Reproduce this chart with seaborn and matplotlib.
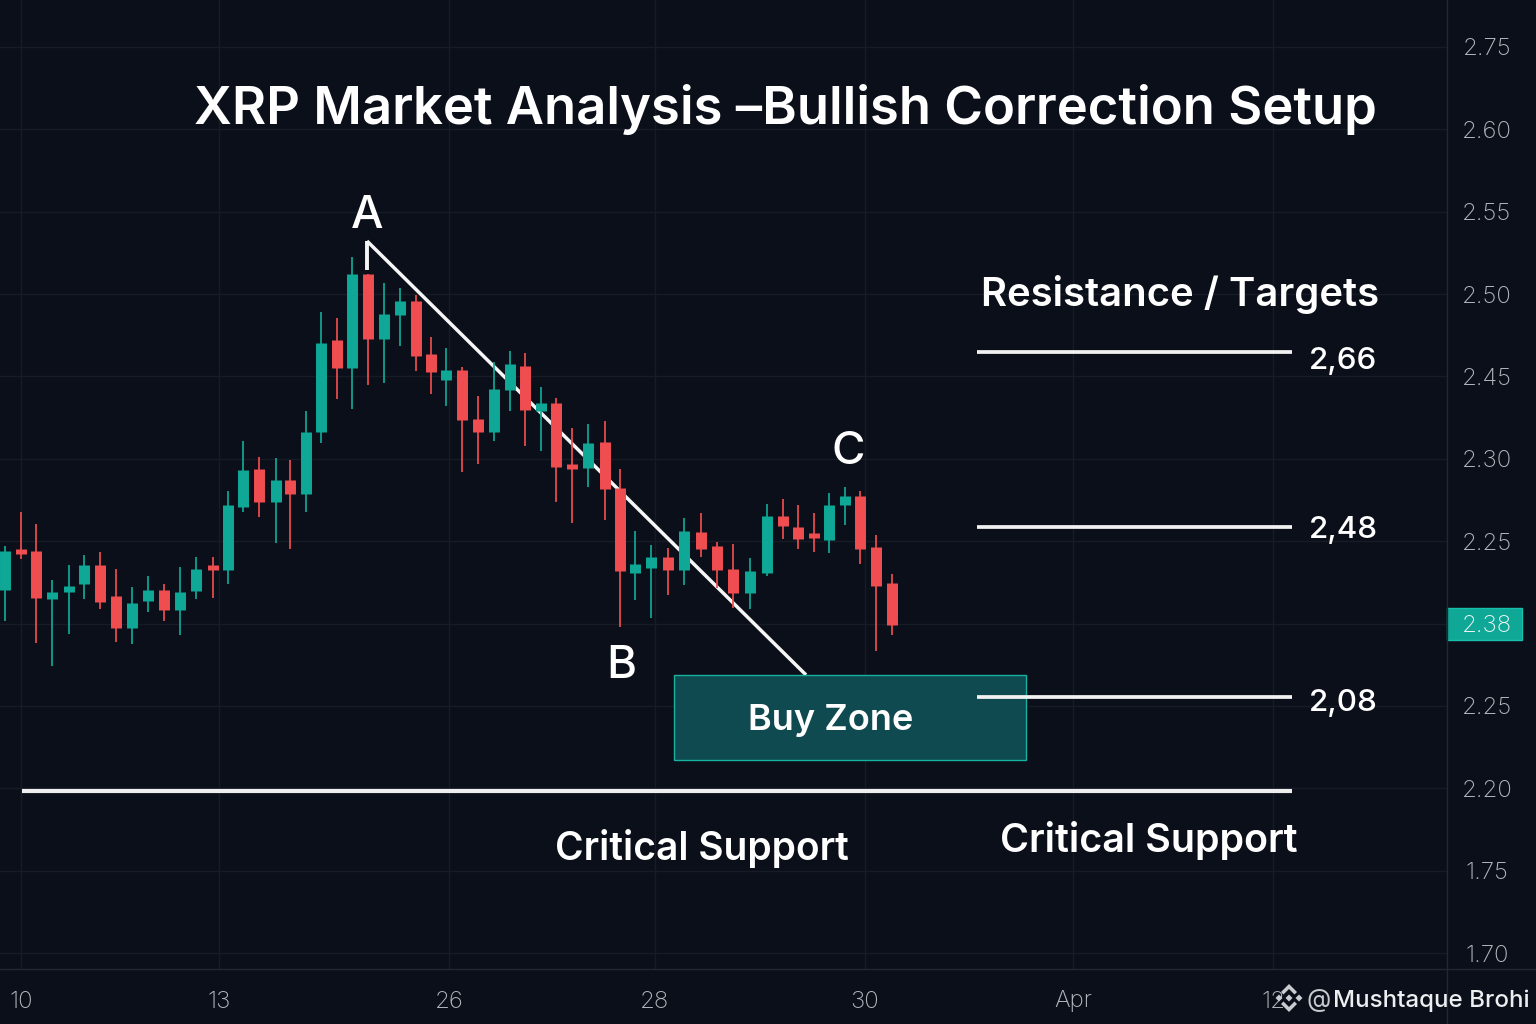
import matplotlib
matplotlib.use("Agg")
import matplotlib.pyplot as plt
from matplotlib.lines import Line2D
from matplotlib.patches import Rectangle, Polygon
import numpy as np
import pandas as pd
import seaborn as sns

# Candle series on the chart's time and price axes
bar_times = [0,1.04,1.99,3.00,4.04,5.02,6.03,7.03,8.04,9.05,10.06,11.07,12.08,13.15,14.10,15.05,16.06,17.13,18.01,19.02,19.97,20.98,21.92,22.93,23.94,24.95,25.96,26.91,27.85,28.86,29.87,30.88,31.89,32.84,33.85,34.79,35.80,36.81,37.88,38.83,39.78,40.79,41.86,42.87,43.94,44.95,45.96,47.03,48.11,49.12,50.06,51.07,52.02,53.03,53.97,54.98,55.99]
opens = [2.4204,2.4451,2.4443,2.4150,2.4190,2.4243,2.4356,2.4166,2.3972,2.4139,2.4204,2.4083,2.4200,2.4356,2.4326,2.4710,2.4936,2.4740,2.4872,2.4789,2.5165,2.5719,2.5554,2.6124,2.5727,2.5875,2.5960,2.5638,2.5477,2.5539,2.5242,2.5165,2.5418,2.5564,2.5288,2.5339,2.4969,2.4947,2.5100,2.4823,2.4309,2.4338,2.4402,2.4328,2.4558,2.4471,2.4332,2.4188,2.4305,2.4653,2.4587,2.4550,2.4510,2.4720,2.4777,2.4463,2.4245]
closes = [2.4443,2.4423,2.4154,2.4190,2.4226,2.4356,2.4133,2.3972,2.4123,2.4204,2.4083,2.4194,2.4330,2.4326,2.4722,2.4932,2.4740,2.4872,2.4789,2.5161,2.5705,2.5554,2.6124,2.5727,2.5879,2.5960,2.5622,2.5529,2.5539,2.5236,2.5161,2.5426,2.5578,2.5295,2.5339,2.4953,2.4936,2.5098,2.4819,2.4319,2.4360,2.4402,2.4328,2.4560,2.4451,2.4324,2.4188,2.4319,2.4653,2.4591,2.4516,2.4520,2.4722,2.4777,2.4453,2.4230,2.3994]
highs = [2.4471,2.4678,2.4605,2.4265,2.4358,2.4419,2.4437,2.4334,2.4224,2.4289,2.4241,2.4342,2.4406,2.4406,2.4803,2.5106,2.5013,2.5003,2.4993,2.5293,2.5891,2.5853,2.6227,2.6124,2.6065,2.6039,2.5995,2.5740,2.5671,2.5556,2.5382,2.5586,2.5655,2.5640,2.5436,2.5367,2.5185,2.5214,2.5230,2.4936,2.4562,2.4475,2.4457,2.4641,2.4669,2.4495,2.4483,2.4398,2.4726,2.4756,2.4720,2.4669,2.4791,2.4831,2.4807,2.4538,2.4299]
lows = [2.4018,2.4394,2.3880,2.3745,2.3937,2.4152,2.4091,2.3885,2.3876,2.4073,2.4018,2.3929,2.4148,2.4154,2.4237,2.4678,2.4649,2.4491,2.4455,2.4678,2.5098,2.5363,2.5303,2.5448,2.5462,2.5687,2.5533,2.5394,2.5323,2.4918,2.4967,2.5106,2.5291,2.5080,2.5046,2.4740,2.4613,2.4827,2.4631,2.3982,2.4143,2.4036,2.4174,2.4232,2.4404,2.4214,2.4093,2.4087,2.4289,2.4516,2.4453,2.4435,2.4429,2.4597,2.4360,2.3836,2.3933]

y_ticks = [2.75, 2.70, 2.65, 2.60, 2.55, 2.50, 2.45, 2.40, 2.35, 2.30, 2.25, 2.20]
y_labels = ["2.75", "2.60", "2.55", "2.50", "2.45", "2.30", "2.25", "", "2.25", "2.20", "1.75", "1.70"]
last_price_label = "2.38"
last_price_level = 2.40

x_ticks = [1.06, 13.53, 28.04, 41.04, 54.29, 67.41, 80.03]
x_labels = ["10", "13", "26", "28", "30", "Apr", "12"]

target_labels = ["2,66", "2,48", "2,08"]
target_levels = [2.5648, 2.4586, 2.3554]
support_level = 2.2984
buy_zone_prices = (2.3172, 2.3688)
buy_zone_span = (42.24, 64.45)
target_span = (61.36, 81.23)
support_span = (1.10, 81.23)
swing_start = (22.87, 2.6322)
swing_end = (50.57, 2.3688)
swing_stem_end = 2.6146

BG = "#0b0f19"
GRID = "#161b25"
FRAME = "#232831"
TEAL = "#0fa896"
RED = "#ef4d50"
TICK = "#b4b8be"
WHITE = "#ffffff"
W, H = 1536, 1024

sns.set_theme(style="dark", rc={"figure.facecolor": BG, "axes.facecolor": BG})
plt.rcParams["font.family"] = ["Inter", "DejaVu Sans"]

fig = plt.figure(figsize=(W / 100, H / 100), dpi=100, facecolor=BG)
ax = fig.add_axes([0, 1 - 969 / H, 1447 / W, 969 / H])
ax.set_facecolor(BG)

times = np.array(bar_times)
direction = np.where(np.array(closes) >= np.array(opens), "up", "down")
index = np.arange(len(opens))
wicks = pd.DataFrame({"candle": np.r_[index, index], "time": np.r_[times, times],
                      "price": highs + lows, "direction": np.r_[direction, direction]})
bodies = pd.DataFrame({"candle": np.r_[index, index], "time": np.r_[times, times],
                       "price": opens + closes, "direction": np.r_[direction, direction]})
palette = {"up": TEAL, "down": RED}

# The swing line runs beneath the candles
ax.plot([swing_start[0], swing_end[0]], [swing_start[1], swing_end[1]],
        color="#f6f6f6", lw=2.5, zorder=2, solid_capstyle="butt")
ax.plot([swing_start[0], swing_start[0]], [swing_start[1], swing_stem_end],
        color="#f6f6f6", lw=2.8, zorder=2, solid_capstyle="butt")

sns.lineplot(data=wicks, x="time", y="price", hue="direction", units="candle",
             estimator=None, palette=palette, legend=False, lw=1.25,
             solid_capstyle="butt", zorder=3, ax=ax)
sns.lineplot(data=bodies, x="time", y="price", hue="direction", units="candle",
             estimator=None, palette=palette, legend=False, lw=7.9,
             solid_capstyle="butt", zorder=4, ax=ax)

ax.set_xlim(-0.284, 91.01)
ax.set_ylim(2.1903, 2.7785)
ax.set_xlabel("")
ax.set_ylabel("")
ax.set_xticks(x_ticks)
ax.set_xticklabels([])
ax.set_yticks(y_ticks)
ax.set_yticklabels([])
ax.tick_params(length=0)
ax.grid(True, color=GRID, lw=1.0, zorder=1)
ax.set_axisbelow(True)
for spine in ax.spines.values():
    spine.set_visible(False)

# Buy zone and level lines
ax.add_patch(Rectangle((buy_zone_span[0], buy_zone_prices[0]),
                       buy_zone_span[1] - buy_zone_span[0],
                       buy_zone_prices[1] - buy_zone_prices[0],
                       facecolor="#0e4a4f", edgecolor="#17b3a0", lw=1.0, zorder=5))
ax.hlines(target_levels, *target_span, color="#f2f2f2", lw=2.7, zorder=6)
ax.hlines(support_level, *support_span, color="#eeeeee", lw=3.0, zorder=6)


def put(x, y, text, size, color=WHITE, weight="semibold", z=10):
    fig.text(x / W, 1 - y / H, text, fontsize=size, ha="center", va="center_baseline",
             color=color, fontweight=weight, zorder=z)


# Frame of the price and time scales
fig.add_artist(Line2D([1447 / W, 1447 / W], [0, 1], color=FRAME, lw=1.0))
fig.add_artist(Line2D([0, 1], [1 - 969 / H, 1 - 969 / H], color=FRAME, lw=1.0))

# Price scale labels
for value, label in zip(y_ticks, y_labels):
    if label:
        fig.text(1487 / W, ax.get_yaxis_transform().transform((0, value))[1] / fig.bbox.height,
                 label, fontsize=17.2, ha="center", va="center_baseline", color=TICK,
                 fontweight="light")

# Last price tag
tag_y = ax.get_yaxis_transform().transform((0, last_price_level))[1] / fig.bbox.height
fig.add_artist(Rectangle((1447 / W, tag_y - 16 / H), 75 / W, 32 / H, transform=fig.transFigure,
                         facecolor=TEAL, edgecolor="#17c0ac", lw=1.0))
fig.text(1487 / W, tag_y, last_price_label, fontsize=17.2, ha="center",
         va="center_baseline", color="#eef6f5", fontweight="light", zorder=10)

# Time scale labels
for value, label in zip(x_ticks, x_labels):
    fig.text(ax.get_xaxis_transform().transform((value, 0))[0] / fig.bbox.width, 1 - 999 / H,
             label, fontsize=17.2, ha="center", va="center_baseline", color=TICK,
             fontweight="light")

# Headline and annotations
put(785, 104, "XRP Market Analysis \u2013Bullish Correction Setup", 37.9)
put(367, 212, "A", 33, weight="medium")
put(621, 661, "B", 33, weight="medium")
put(848, 448, "C", 33, weight="medium")
put(1180, 291, "Resistance / Targets", 28.8)
for label, y in zip(target_labels, [358, 527, 700]):
    put(1343, y, label, 22.6, weight="medium")
put(831, 717, "Buy Zone", 26)
put(702, 845, "Critical Support", 28)
put(1149, 837, "Critical Support", 28.4)

# Author watermark
put(1319, 998, "@", 18, color="#c6c9ce", weight="normal")
put(1431, 998, "Mushtaque Brohi", 17.4, color="#eceef0", weight="medium")


def fig_poly(points, color="#c9ccd0"):
    xy = [((1289 + dx) / W, 1 - (998 + dy) / H) for dx, dy in points]
    fig.add_artist(Polygon(xy, closed=True, transform=fig.transFigure, facecolor=color,
                           edgecolor="none", zorder=11))


diamond = [(0, -3.5), (3.5, 0), (0, 3.5), (-3.5, 0)]
fig_poly(diamond)
fig_poly([(x - 10, y) for x, y in diamond])
fig_poly([(x + 10, y) for x, y in diamond])
fig_poly([(0, -14), (8, -6), (5.5, -3.5), (0, -9), (-5.5, -3.5), (-8, -6)])
fig_poly([(0, 14), (8, 6), (5.5, 3.5), (0, 9), (-5.5, 3.5), (-8, 6)])

fig.savefig("out.png", dpi=100, facecolor=BG)
